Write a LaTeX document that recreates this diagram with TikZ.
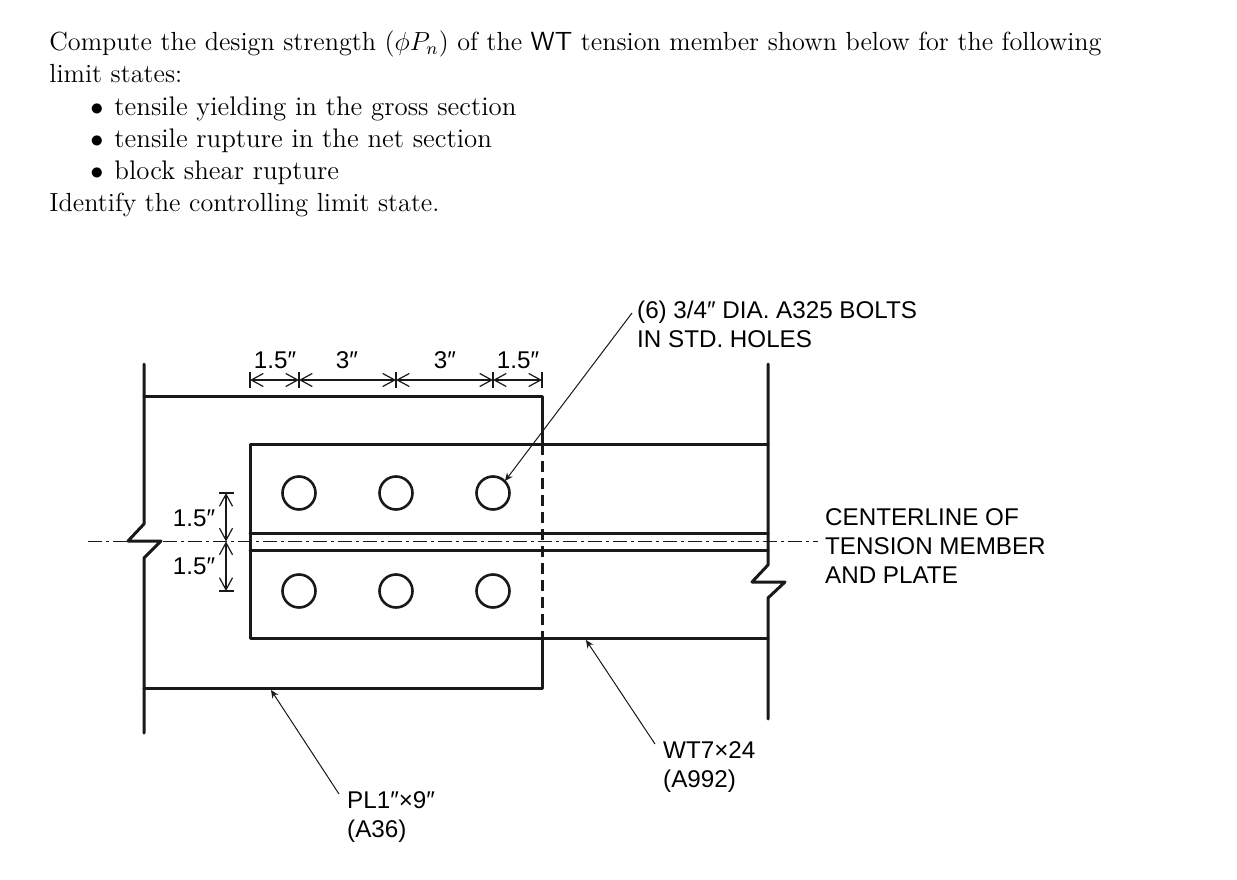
\documentclass[tikz,border=0pt]{standalone}
\usepackage{fontspec}
\usetikzlibrary{arrows.meta}
\newfontfamily\lblfont{Liberation Sans}
\tikzset{
  x=1pt,y=-1pt,
  heavy/.style={line width=3pt,line join=round,line cap=round,draw=black!90},
  hole/.style={circle,draw=black!90,line width=2.6pt,minimum size=33pt,inner sep=0pt},
  thin line/.style={line width=1.2pt,draw=black!90},
  dimarrow/.style={thin line,{Straight Barb[length=12pt,width=13pt]}-{Straight Barb[length=12pt,width=13pt]}},
  leader/.style={line width=1pt,draw=black!90,-{Stealth[length=8pt,width=7pt]}},
  lbl/.style={font=\lblfont\fontsize{24.2}{29}\selectfont,inner sep=0pt,anchor=base west,align=left},
  dimlbl/.style={font=\lblfont\fontsize{24.2}{29}\selectfont,inner sep=0pt,anchor=base},
  body/.style={font=\fontsize{12}{14}\selectfont,scale=2.184,inner sep=0pt,anchor=base west},
  item/.style={font=\fontsize{12}{14}\selectfont,scale=2.24,inner sep=0pt,anchor=base west},
  center/.style={line width=1.2pt,draw=black!90,dash pattern=on 14pt off 4pt on 3pt off 4pt},
  tick/.style={line width=1.2pt,draw=black!90}
}
\begin{document}
\begin{tikzpicture}
\useasboundingbox[fill=white] (0,0) rectangle (1237,880);
% problem text
\node[body] (t1) at (49,50.3) {Compute the design strength ($\phi P_n$) of the \textsf{WT} tension member shown below for the following};
\node[body] (t2) at (49,82.3) {limit states:};
\node[body] (b1a) at (90,115.3) {$\bullet$};
\node[item] (b1) at (114,115.3) {tensile yielding in the gross section};
\node[body] (b2a) at (90,147.3) {$\bullet$};
\node[item] (b2) at (114,147.3) {tensile rupture in the net section};
\node[body] (b3a) at (90,179.3) {$\bullet$};
\node[item] (b3) at (114,179.3) {block shear rupture};
\node[body] (t3) at (49,211.3) {Identify the controlling limit state.};
% coordinates
\coordinate (pTL) at (144,396);
\coordinate (pTR) at (542,396);
\coordinate (pBL) at (144,688);
\coordinate (pBR) at (542,688);
\coordinate (wTL) at (250,444);
\coordinate (wTR) at (768,444);
\coordinate (wBL) at (250,638);
\coordinate (wBR) at (768,638);
\coordinate (sTL) at (250,533);
\coordinate (sTR) at (768,533);
\coordinate (sBL) at (250,550);
\coordinate (sBR) at (768,550);
\coordinate (dT) at (542,444);
\coordinate (dB) at (542,638);
\coordinate (cL) at (88,541.5);
\coordinate (cR) at (818,541.5);
% plate
\draw[heavy] (144,364) -- (144,524) -- (128,541) -- (161,541) -- (144,558) -- (144,733);
\draw[heavy] (pTL) -- (pTR) -- (dT);
\draw[heavy] (pBL) -- (pBR) -- (dB);
\draw[line width=3pt,draw=black!90,dash pattern=on 11pt off 6pt] (dT) -- (dB);
% WT
\draw[heavy] (wBR) -- (wBL) -- (wTL) -- (wTR);
\draw[heavy] (sTL) -- (sTR);
\draw[heavy] (sBL) -- (sBR);
\draw[heavy] (768,364) -- (768,565) -- (752,582) -- (785,582) -- (768,598) -- (768,719);
% centreline
\draw[center] (cL) -- (cR);
% holes
\node[hole] (h1) at (299,493) {};
\node[hole] (h2) at (396,493) {};
\node[hole] (h3) at (493,493) {};
\node[hole] (h4) at (299,591) {};
\node[hole] (h5) at (396,591) {};
\node[hole] (h6) at (493,591) {};
% horizontal dimensions
\coordinate (d0) at (250,380);
\coordinate (d1) at (299,380);
\coordinate (d2) at (396,380);
\coordinate (d3) at (493,380);
\coordinate (d4) at (542,380);
\foreach \a in {d0,d1,d2,d3,d4} \draw[tick] ([yshift=8pt]\a) -- ([yshift=-8pt]\a);
\draw[dimarrow] (d0) -- (d1);
\draw[dimarrow] (d1) -- (d2);
\draw[dimarrow] (d2) -- (d3);
\draw[dimarrow] (d3) -- (d4);
\node[dimlbl] (l1) at (275,368) {1.5″};
\node[dimlbl] (l2) at (347,368) {3″};
\node[dimlbl] (l3) at (445,368) {3″};
\node[dimlbl] (l4) at (518,368) {1.5″};
% vertical dimensions
\coordinate (v0) at (226,493);
\coordinate (v1) at (226,541.5);
\coordinate (v2) at (226,591);
\draw[tick] (219,493) -- (234,493);
\draw[tick] (219,591) -- (234,591);
\draw[dimarrow] (v0) -- (v1);
\draw[dimarrow] (v1) -- (v2);
\node[dimlbl] (l5) at (194,526) {1.5″};
\node[dimlbl] (l6) at (194,574) {1.5″};
% labels
\node[lbl] (bolts) at (637,318) {(6) 3/4″ DIA. A325 BOLTS};
\node[lbl] (bolts2) at (637,347) {IN STD. HOLES};
\node[lbl] (c1) at (825,525) {CENTERLINE OF};
\node[lbl] (c2) at (825,554) {TENSION MEMBER};
\node[lbl] (c3) at (825,583) {AND PLATE};
\node[lbl] (wt1) at (663,758) {WT7×24};
\node[lbl] (wt2) at (663,787) {(A992)};
\node[lbl] (pl1) at (347,808) {PL1″×9″};
\node[lbl] (pl2) at (347,837) {(A36)};
% leaders
\coordinate (boltFree) at (632,313);
\coordinate (boltTip) at (505,481);
\coordinate (plFree) at (339,794);
\coordinate (plTip) at (271,690);
\coordinate (wtFree) at (655,744);
\coordinate (wtTip) at (586,640);
\draw[leader] (boltFree) -- (boltTip);
\draw[leader] (plFree) -- (plTip);
\draw[leader] (wtFree) -- (wtTip);
\end{tikzpicture}
\end{document}
